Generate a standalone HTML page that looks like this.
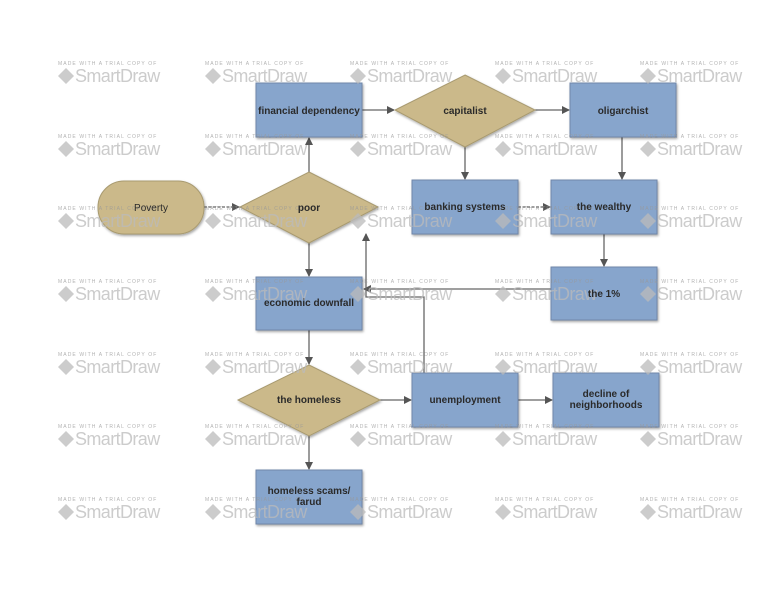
<!DOCTYPE html>
<html><head><meta charset="utf-8"><style>
body{margin:0;background:#fff}
svg{display:block}
.wm1{font:5px "Liberation Sans",sans-serif;fill:#999;letter-spacing:1.1px}
.wm2{font:18px "Liberation Sans",sans-serif;fill:#bbb;letter-spacing:-0.6px}
.t{font:bold 10px "Liberation Sans",sans-serif;fill:#2a2a2a;text-anchor:middle}
.b{fill:#87a5cc;stroke:#6f87aa;stroke-width:1}
.d{fill:#cbb98a;stroke:#a89a70;stroke-width:1}
.l{stroke:#666;stroke-width:1.3;fill:none}
</style></head><body>
<svg width="768" height="594" viewBox="0 0 768 594" xmlns="http://www.w3.org/2000/svg">
<defs>
<marker id="a" markerWidth="8" markerHeight="8" refX="7" refY="4" orient="auto" markerUnits="userSpaceOnUse"><path d="M0,0 L8,4 L0,8z" fill="#555"/></marker>
<filter id="s"><feDropShadow dx="1" dy="1.5" stdDeviation="1.2" flood-opacity="0.35"/></filter>
<g id="wm">
<g transform="translate(58,62)"><text class="wm1" x="0" y="3">MADE WITH A TRIAL COPY OF</text><path d="M8,6 l8,8 l-8,8 l-8,-8z" fill="#bbb"/><text class="wm2" x="17" y="20">SmartDraw</text></g>
</g>
</defs>
<!-- connectors -->
<path class="l" d="M204,207 H239" stroke-dasharray="3,1.5" marker-end="url(#a)"/>
<path class="l" d="M309,172 V138" marker-end="url(#a)"/>
<path class="l" d="M362,110 H394" marker-end="url(#a)"/>
<path class="l" d="M535,110 H569" marker-end="url(#a)"/>
<path class="l" d="M465,147 V179" marker-end="url(#a)"/>
<path class="l" d="M622,137 V179" marker-end="url(#a)"/>
<path class="l" d="M518,207 H550" stroke-dasharray="3,1.5" marker-end="url(#a)"/>
<path class="l" d="M604,234 V266" marker-end="url(#a)"/>
<path class="l" d="M551,289 H364" marker-end="url(#a)"/>
<path class="l" d="M309,243 V276" marker-end="url(#a)"/>
<path class="l" d="M424,373 V297 H366 V234" marker-end="url(#a)"/>
<path class="l" d="M309,330 V364" marker-end="url(#a)"/>
<path class="l" d="M380,400 H411" marker-end="url(#a)"/>
<path class="l" d="M518,400 H552" marker-end="url(#a)"/>
<path class="l" d="M309,436 V469" marker-end="url(#a)"/>
<!-- nodes -->
<g filter="url(#s)">
<rect class="d" x="98" y="181" width="106" height="53" rx="26"/>
<path class="d" d="M309,172 L378,207 L309,243 L240,207z"/>
<rect class="b" x="256" y="83" width="106" height="54"/>
<path class="d" d="M465,75 L535,110 L465,147 L395,110z"/>
<rect class="b" x="570" y="83" width="106" height="54"/>
<rect class="b" x="412" y="180" width="106" height="54"/>
<rect class="b" x="551" y="180" width="106" height="54"/>
<rect class="b" x="551" y="267" width="106" height="53"/>
<rect class="b" x="256" y="277" width="106" height="53"/>
<path class="d" d="M309,365 L380,400 L309,436 L238,400z"/>
<rect class="b" x="412" y="373" width="106" height="54"/>
<rect class="b" x="553" y="373" width="106" height="54"/>
<rect class="b" x="256" y="470" width="106" height="54"/>
</g>
<g opacity="0.75">
<use href="#wm"/><use href="#wm" x="147"/><use href="#wm" x="292"/><use href="#wm" x="437"/><use href="#wm" x="582"/>
<use href="#wm" y="73"/><use href="#wm" x="147" y="73"/><use href="#wm" x="292" y="73"/><use href="#wm" x="437" y="73"/><use href="#wm" x="582" y="73"/>
<use href="#wm" y="145"/><use href="#wm" x="147" y="145"/><use href="#wm" x="292" y="145"/><use href="#wm" x="437" y="145"/><use href="#wm" x="582" y="145"/>
<use href="#wm" y="218"/><use href="#wm" x="147" y="218"/><use href="#wm" x="292" y="218"/><use href="#wm" x="437" y="218"/><use href="#wm" x="582" y="218"/>
<use href="#wm" y="291"/><use href="#wm" x="147" y="291"/><use href="#wm" x="292" y="291"/><use href="#wm" x="437" y="291"/><use href="#wm" x="582" y="291"/>
<use href="#wm" y="363"/><use href="#wm" x="147" y="363"/><use href="#wm" x="292" y="363"/><use href="#wm" x="437" y="363"/><use href="#wm" x="582" y="363"/>
<use href="#wm" y="436"/><use href="#wm" x="147" y="436"/><use href="#wm" x="292" y="436"/><use href="#wm" x="437" y="436"/><use href="#wm" x="582" y="436"/>
</g>
<text class="t" x="151" y="211" style="font-weight:normal">Poverty</text>
<text class="t" x="309" y="211">poor</text>
<text class="t" x="309" y="114">financial dependency</text>
<text class="t" x="465" y="114">capitalist</text>
<text class="t" x="623" y="114">oligarchist</text>
<text class="t" x="465" y="210">banking systems</text>
<text class="t" x="604" y="210">the wealthy</text>
<text class="t" x="604" y="297">the 1%</text>
<text class="t" x="309" y="306">economic downfall</text>
<text class="t" x="309" y="403">the homeless</text>
<text class="t" x="465" y="403">unemployment</text>
<text class="t" x="606" y="397">decline of</text>
<text class="t" x="606" y="408">neighborhoods</text>
<text class="t" x="309" y="494">homeless scams/</text>
<text class="t" x="309" y="505">farud</text>
</svg>
</body></html>
